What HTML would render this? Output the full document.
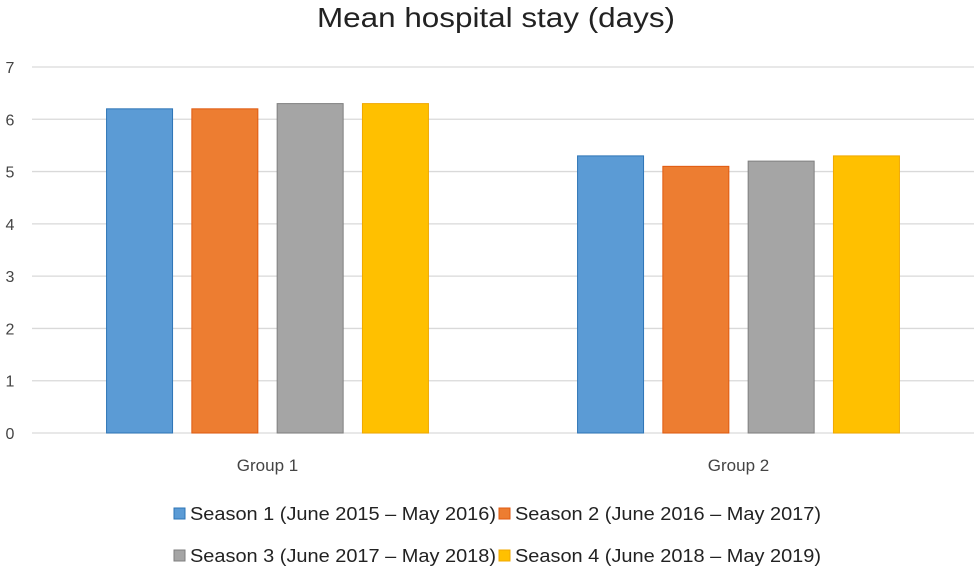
<!DOCTYPE html>
<html><head><meta charset="utf-8"><style>body{margin:0;background:#fff}svg{display:block;font-family:"Liberation Sans",sans-serif}</style></head>
<body>
<svg id="chart" width="975" height="570" viewBox="0 0 975 570">
<text x="496" y="27" text-anchor="middle" font-size="28" fill="#222" textLength="358" lengthAdjust="spacingAndGlyphs">Mean hospital stay (days)</text>
<g id="grid"></g><g id="bars"></g><g id="legend"></g>
</svg>
<script>
const categories = ["Group 1", "Group 2"];
const seriesNames = ["Season 1 (June 2015 \u2013 May 2016)", "Season 2 (June 2016 \u2013 May 2017)", "Season 3 (June 2017 \u2013 May 2018)", "Season 4 (June 2018 \u2013 May 2019)"];
const season1 = [6.2, 5.3];
const season2 = [6.2, 5.1];
const season3 = [6.3, 5.2];
const season4 = [6.3, 5.3];
const yTicks = [0, 1, 2, 3, 4, 5, 6, 7];

const series = [season1, season2, season3, season4];
const fills = ["#5B9BD5", "#ED7D31", "#A5A5A5", "#FFC000"];
const strokes = ["#2E75B6", "#E05A10", "#7F7F7F", "#F0A800"];
const NS = "http://www.w3.org/2000/svg";
const x0 = 32, x1 = 974, yBase = 433, yTop = 67, yMax = 7;
const y = v => yBase - v / yMax * (yBase - yTop);
const catW = (x1 - x0) / categories.length;
const barW = 66, step = 85.3;
function mk(tag, attrs, parent) { const e = document.createElementNS(NS, tag); for (const k in attrs) e.setAttribute(k, attrs[k]); parent.appendChild(e); return e; }
const grid = document.getElementById("grid");
yTicks.forEach(t => {
  const l = mk("line", {x1: x0, x2: x1, y1: y(t), y2: y(t), stroke: "#D9D9D9", "stroke-width": 1.3}, grid);
  
  
  const tx = mk("text", {x: 10, y: y(t) + 6, "text-anchor": "middle", "font-size": 16, fill: "#444"}, grid);
  tx.textContent = t;
  
  
});
const bars = document.getElementById("bars");
categories.forEach((c, ci) => {
  const cx = x0 + catW * (ci + 0.5);
  series.forEach((s, si) => {
    const bx = cx - 1.5 * step + si * step - barW / 2;
    const r = mk("rect", {x: bx, y: y(s[ci]), width: barW, height: yBase - y(s[ci]), fill: fills[si], stroke: strokes[si], "stroke-width": 1}, bars);
    
    
  });
  const t = mk("text", {x: cx, y: 471, "text-anchor": "middle", "font-size": 17, fill: "#444"}, bars);
  t.textContent = c;
  
  
});
const legend = document.getElementById("legend");
const lpos = [[174, 515], [499, 515], [174, 557], [499, 557]];
seriesNames.forEach((n, i) => {
  const [lx, ly] = lpos[i];
  const sq = mk("rect", {x: lx, y: ly - 7, width: 11, height: 11, fill: fills[i], stroke: strokes[i]}, legend);
  
  
  const t = mk("text", {x: lx + 16, y: ly + 5, "font-size": 18, fill: "#222", textLength: 306, lengthAdjust: "spacingAndGlyphs"}, legend);
  t.textContent = n;
  
  
});
</script>
</body></html>
